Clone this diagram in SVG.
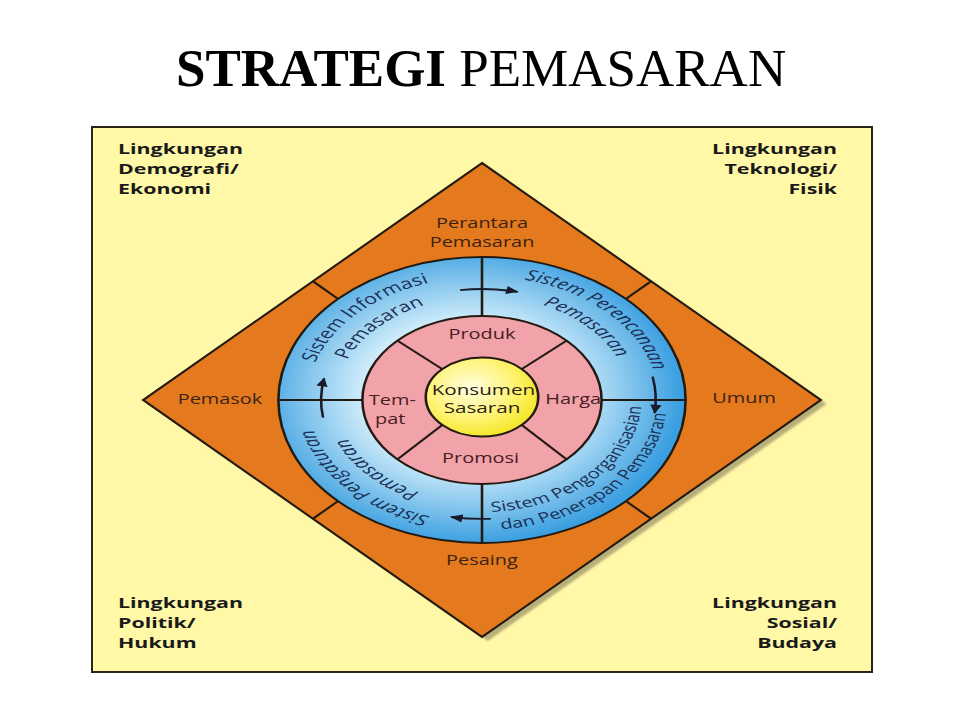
<svg xmlns="http://www.w3.org/2000/svg" width="960" height="720" viewBox="0 0 960 720">
  <defs>
    <style>
      .title { font-family: "Liberation Serif", "Times New Roman", serif; font-size: 53px; fill: #000; }
      .corner { font-family: "Open Sans", "Noto Sans", sans-serif; font-weight: 700; font-size: 15px; fill: #1a1a1a; }
      .orange-lbl { font-family: "Open Sans", "Noto Sans", sans-serif; font-size: 14px; fill: #3b2314; text-anchor: middle; }
      .pink-lbl { font-family: "Open Sans", "Noto Sans", sans-serif; font-size: 14px; fill: #45201f; text-anchor: middle; }
      .center-lbl { font-family: "Open Sans", "Noto Sans", sans-serif; font-size: 14.5px; fill: #2a2410; text-anchor: middle; }
      .ring-lbl { font-family: "Open Sans", "Noto Sans", sans-serif; font-size: 15px; fill: #1b2f55; text-anchor: middle; }
      .ital { font-style: italic; }
      .cond { font-size: 14px; }
      .edge { stroke: #231a12; stroke-width: 1.8; }
      .divider { stroke: #231a12; stroke-width: 1.8; fill: none; }
      .arrow { stroke: #1a1a2a; stroke-width: 1.8; fill: none; marker-end: url(#ah); }
    </style>
    <marker id="ah" viewBox="0 0 10 9" refX="9" refY="4.5" markerUnits="userSpaceOnUse" markerWidth="10" markerHeight="8" orient="auto">
      <path d="M0,0 L10,4.5 L0,9 Z" fill="#1a1a2a"/>
    </marker>
    <radialGradient id="blueGrad" gradientUnits="userSpaceOnUse" cx="-10" cy="-6" r="150">
      <stop offset="0.5" stop-color="#cdebfa"/>
      <stop offset="0.72" stop-color="#8fcbef"/>
      <stop offset="1" stop-color="#3a9fe0"/>
    </radialGradient>
    <radialGradient id="yellowGrad" gradientUnits="userSpaceOnUse" cx="-8" cy="-12" r="48">
      <stop offset="0" stop-color="#fffde2"/>
      <stop offset="0.6" stop-color="#fff47a"/>
      <stop offset="1" stop-color="#f6e830"/>
    </radialGradient>
    <filter id="soft" x="-10%" y="-10%" width="120%" height="120%">
      <feGaussianBlur stdDeviation="0.8"/>
    </filter>
    <path id="pUL1" d="M -123,0 A 123 123 0 0 1 0,-123"/>
    <path id="pUL2" d="M -103,0 A 103 103 0 0 1 0,-103"/>
    <path id="pUR1" d="M 0,-124 A 124 124 0 0 1 124,0"/>
    <path id="pUR2" d="M 0,-104 A 104 104 0 0 1 104,0"/>
    <path id="pLL1" d="M 0,122 A 122 122 0 0 1 -122,0"/>
    <path id="pLL2" d="M 0,102 A 102 102 0 0 1 -102,0"/>
    <path id="pLR1" d="M 0,112 A 112 112 0 0 0 112,0"/>
    <path id="pLR2" d="M 0,130 A 130 130 0 0 0 130,0"/>
  </defs>

  <rect x="0" y="0" width="960" height="720" fill="#ffffff"/>

  <g id="title">
    <text class="title" x="176" y="86"><tspan font-weight="700">STRATEGI</tspan> PEMASARAN</text>
  </g>

  <g id="environment-box">
    <rect x="92" y="127" width="780" height="545" fill="#fff8a6" stroke="#2a2418" stroke-width="2"/>
  </g>

  <g id="diagram" transform="translate(482,400) scale(1.424,1)">
    <g id="diamond-shadow">
      <polygon points="4,-233 242,4 4,241 -234,4" fill="#b7af7a" filter="url(#soft)"/>
    </g>
    <g id="orange-diamond">
      <polygon points="0,-237 238,0 0,237 -238,0" fill="#e4791d" class="edge"/>
    </g>
    <g id="blue-ring">
      <circle cx="0" cy="0" r="143" fill="url(#blueGrad)" class="edge"/>
    </g>
    <g id="pink-ring">
      <circle cx="0" cy="0" r="84" fill="#f2a3a9" class="edge"/>
    </g>
    <g id="konsumen-sasaran">
      <circle cx="0" cy="-3" r="39.5" fill="url(#yellowGrad)" class="edge"/>
      <text class="center-lbl" x="1" y="-5">Konsumen</text>
      <text class="center-lbl" x="0" y="13">Sasaran</text>
    </g>

    <g id="connectors">
      <line class="divider" x1="101.1" y1="-101.1" x2="119" y2="-119"/>
      <line class="divider" x1="101.1" y1="101.1" x2="119" y2="119"/>
      <line class="divider" x1="-101.1" y1="101.1" x2="-119" y2="119"/>
      <line class="divider" x1="-101.1" y1="-101.1" x2="-119" y2="-119"/>
      <line class="divider" x1="0" y1="-143" x2="0" y2="-84"/>
      <line class="divider" x1="143" y1="0" x2="84" y2="0"/>
      <line class="divider" x1="0" y1="143" x2="0" y2="84"/>
      <line class="divider" x1="-143" y1="0" x2="-84" y2="0"/>
      <line class="divider" x1="27.6" y1="-30.6" x2="59.4" y2="-59.4"/>
      <line class="divider" x1="27.6" y1="24.6" x2="59.4" y2="59.4"/>
      <line class="divider" x1="-27.6" y1="24.6" x2="-59.4" y2="59.4"/>
      <line class="divider" x1="-27.6" y1="-30.6" x2="-59.4" y2="-59.4"/>
      <path class="arrow" d="M -15.4,-109.9 A 111 111 0 0 1 25,-108.2"/>
      <path class="arrow" d="M 119.8,-23.3 A 122 122 0 0 1 121.3,12.8"/>
      <path class="arrow" d="M 6.2,118.8 A 119 119 0 0 1 -21.7,117"/>
      <path class="arrow" d="M -111.6,17.7 A 113 113 0 0 1 -110.9,-21.6"/>
    </g>

    <g id="perantara-pemasaran">
      <text class="orange-lbl" x="0" y="-172">Perantara</text>
      <text class="orange-lbl" x="0" y="-153">Pemasaran</text>
    </g>
    <g id="pemasok">
      <text class="orange-lbl" x="-184" y="4">Pemasok</text>
    </g>
    <g id="umum">
      <text class="orange-lbl" x="184" y="3">Umum</text>
    </g>
    <g id="pesaing">
      <text class="orange-lbl" x="0" y="165">Pesaing</text>
    </g>

    <g id="produk">
      <text class="pink-lbl" x="0" y="-61">Produk</text>
    </g>
    <g id="harga">
      <text class="pink-lbl" x="64" y="4">Harga</text>
    </g>
    <g id="promosi">
      <text class="pink-lbl" x="-1" y="63">Promosi</text>
    </g>
    <g id="tempat">
      <text class="pink-lbl" x="-63" y="5">Tem-</text>
      <text class="pink-lbl" x="-64.5" y="24">pat</text>
    </g>

    <g id="sistem-informasi">
      <text class="ring-lbl"><textPath href="#pUL1" startOffset="50%">Sistem Informasi</textPath></text>
      <text class="ring-lbl"><textPath href="#pUL2" startOffset="50%">Pemasaran</textPath></text>
    </g>
    <g id="sistem-perencanaan">
      <text class="ring-lbl ital"><textPath href="#pUR1" startOffset="50%">Sistem Perencanaan</textPath></text>
      <text class="ring-lbl ital"><textPath href="#pUR2" startOffset="50%">Pemasaran</textPath></text>
    </g>
    <g id="sistem-pengaturan">
      <text class="ring-lbl ital"><textPath href="#pLL1" startOffset="52%">Sistem Pengaturan</textPath></text>
      <text class="ring-lbl ital"><textPath href="#pLL2" startOffset="52%">Pemasaran</textPath></text>
    </g>
    <g id="sistem-pengorganisasian">
      <text class="ring-lbl cond"><textPath href="#pLR1" startOffset="50%">Sistem Pengorganisasian</textPath></text>
      <text class="ring-lbl cond"><textPath href="#pLR2" startOffset="50%">dan Penerapan Pemasaran</textPath></text>
    </g>

    <g id="lingkungan-demografi">
      <text class="corner" x="-255.6" y="-246">Lingkungan</text>
      <text class="corner" x="-255.6" y="-226">Demografi/</text>
      <text class="corner" x="-255.6" y="-206">Ekonomi</text>
    </g>
    <g id="lingkungan-teknologi">
      <text class="corner" x="249.3" y="-246" text-anchor="end">Lingkungan</text>
      <text class="corner" x="249.3" y="-226" text-anchor="end">Teknologi/</text>
      <text class="corner" x="249.3" y="-206" text-anchor="end">Fisik</text>
    </g>
    <g id="lingkungan-politik">
      <text class="corner" x="-255.6" y="208">Lingkungan</text>
      <text class="corner" x="-255.6" y="228">Politik/</text>
      <text class="corner" x="-255.6" y="248">Hukum</text>
    </g>
    <g id="lingkungan-sosial">
      <text class="corner" x="249.3" y="208" text-anchor="end">Lingkungan</text>
      <text class="corner" x="249.3" y="228" text-anchor="end">Sosial/</text>
      <text class="corner" x="249.3" y="248" text-anchor="end">Budaya</text>
    </g>
  </g>
</svg>
